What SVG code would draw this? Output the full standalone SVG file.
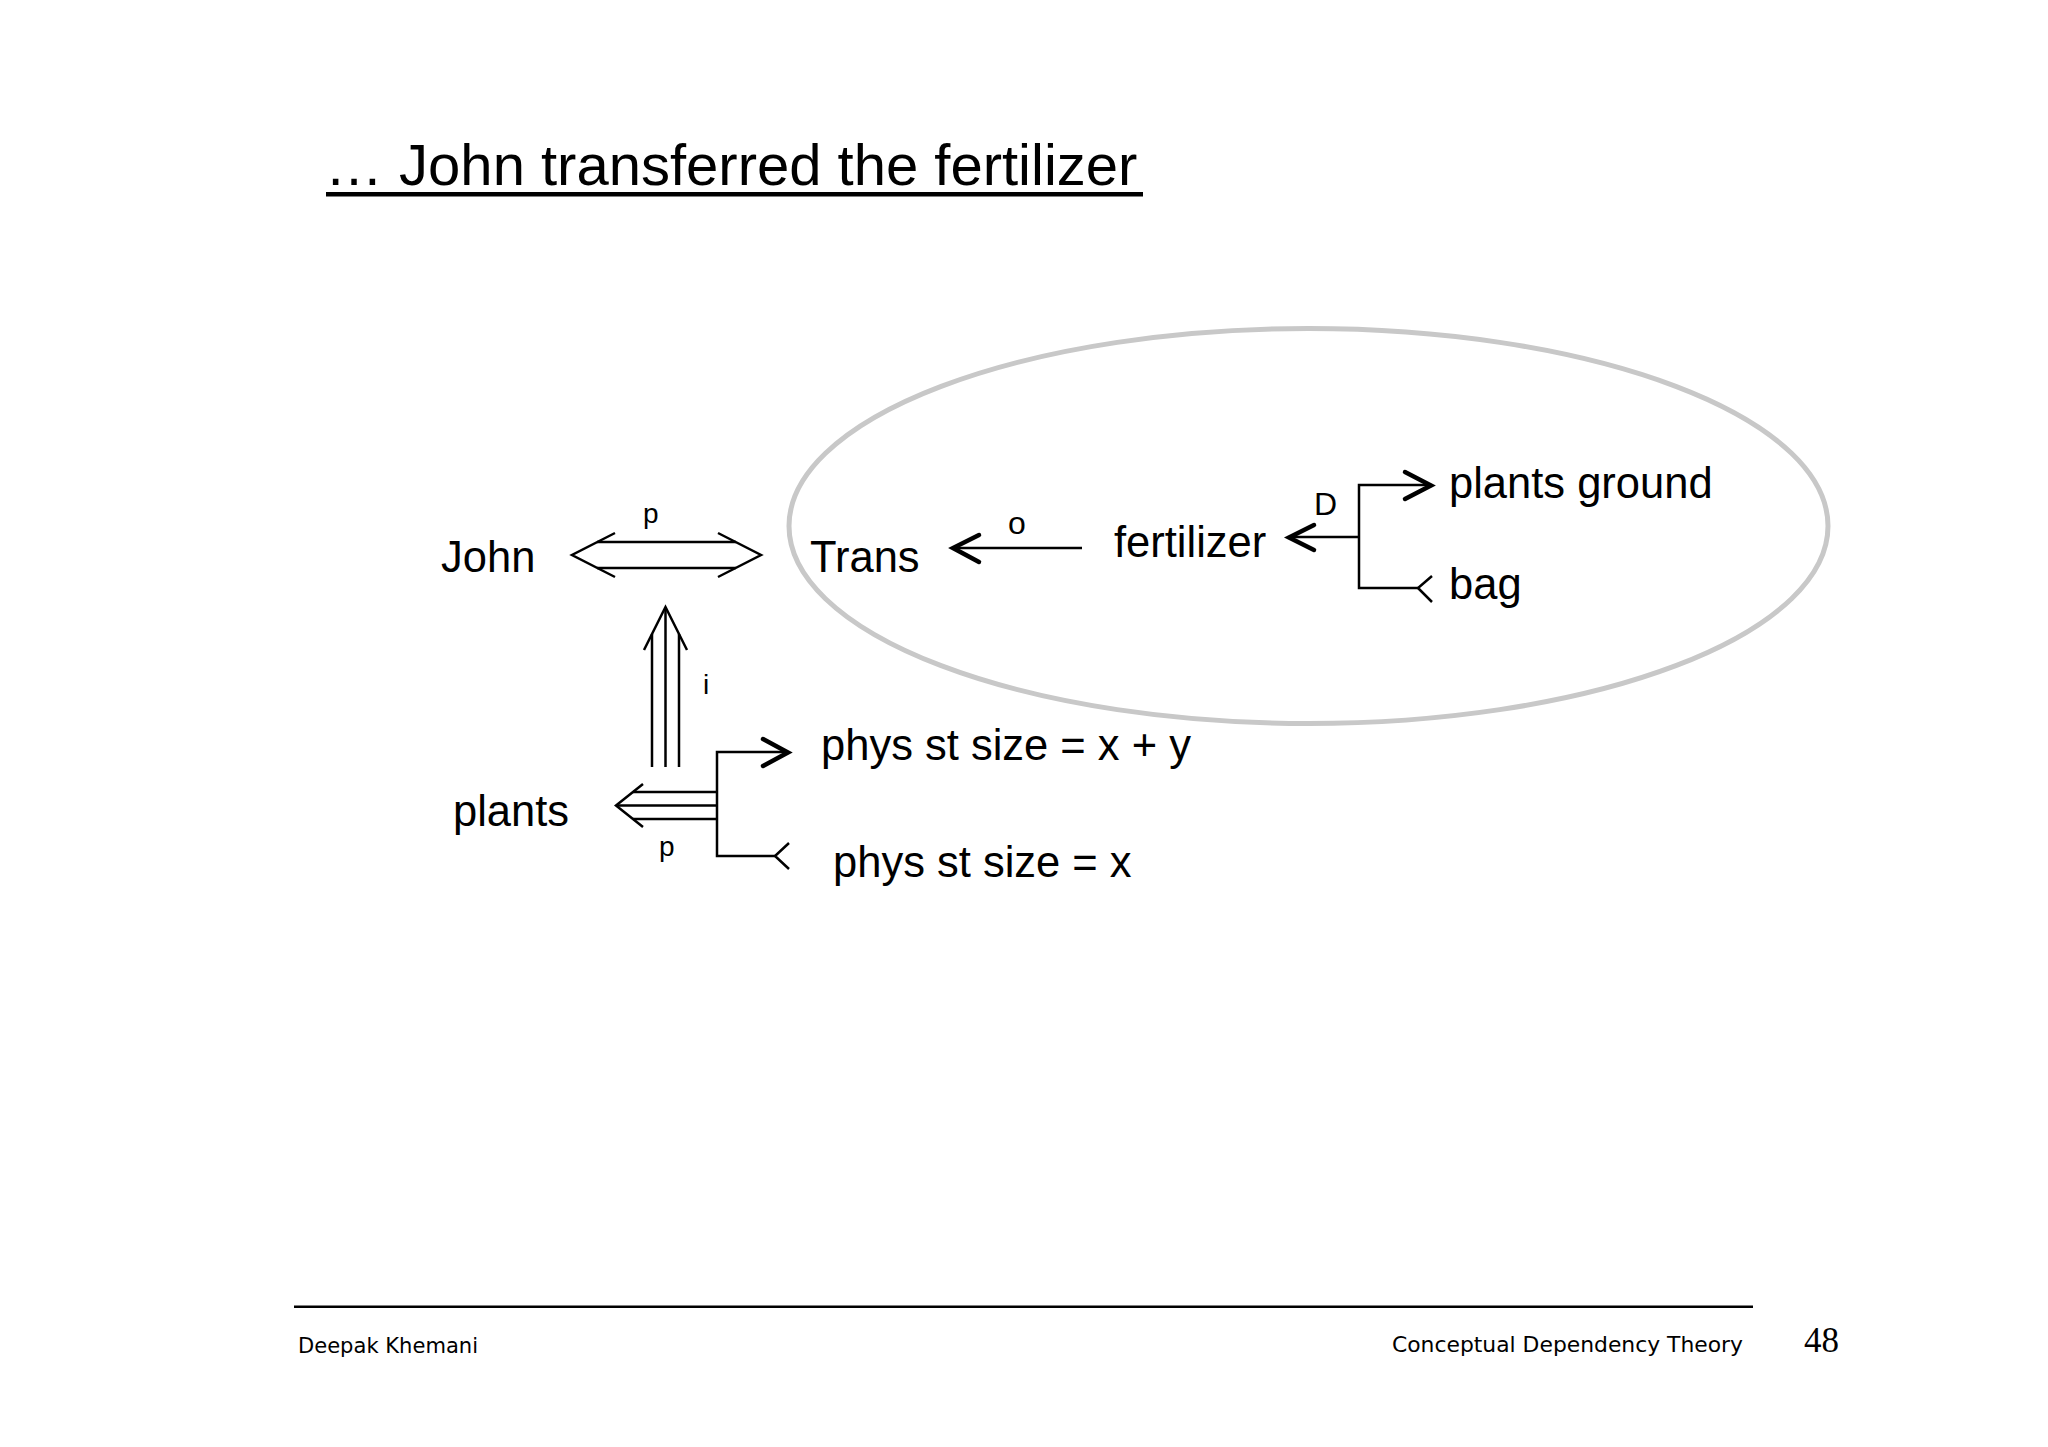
<svg xmlns="http://www.w3.org/2000/svg" width="2048" height="1447" viewBox="0 0 2048 1447">
<style>
  .t { font-family: "Liberation Sans", Arial, sans-serif; fill: #000; }
  .big { font-size: 43.5px; }
  .lbl { font-size: 28px; }
  .ln { stroke: #000; stroke-width: 2.5; fill: none; stroke-linecap: butt; }
  .hd { stroke: #000; stroke-width: 4.5; fill: none; stroke-linecap: round; stroke-linejoin: miter; }
  .foot { font-family: "DejaVu Sans", "Liberation Sans", sans-serif; font-size: 22px; fill: #000; }
</style>
<rect width="2048" height="1447" fill="#fff"/>

<g id="title">
  <text class="t" x="325" y="185" font-size="58">… John transferred the fertilizer</text>
  <rect x="326" y="192" width="817" height="4.5" fill="#000"/>
</g>

<g id="group-ellipse">
  <ellipse cx="1308.5" cy="526" rx="519.5" ry="197.5" fill="none" stroke="#c8c8c8" stroke-width="5"/>
</g>

<g id="node-john"><text class="t big" x="441" y="572">John</text></g>
<g id="node-trans"><text class="t big" x="810" y="572">Trans</text></g>
<g id="node-fertilizer"><text class="t big" x="1114" y="557">fertilizer</text></g>
<g id="node-plants-ground"><text class="t big" x="1449" y="498">plants ground</text></g>
<g id="node-bag"><text class="t big" x="1449" y="599">bag</text></g>
<g id="node-plants"><text class="t big" x="453" y="826">plants</text></g>
<g id="node-phys1"><text class="t big" x="821" y="760">phys st size = x + y</text></g>
<g id="node-phys2"><text class="t big" x="833" y="877">phys st size = x</text></g>

<g id="connectors">
  <!-- John <=> Trans double arrow -->
  <polyline class="ln" points="615,533 572,555 615,577"/>
  <polyline class="ln" points="718,533 761,555 718,577"/>
  <line class="ln" x1="597" y1="542" x2="736" y2="542"/>
  <line class="ln" x1="597" y1="568" x2="736" y2="568"/>
  <text class="t lbl" x="643" y="523">p</text>

  <!-- triple arrow up (instrument) -->
  <polyline class="ln" points="644,650 665.5,607 687,650"/>
  <line class="ln" x1="665.5" y1="607" x2="665.5" y2="767"/>
  <line class="ln" x1="652" y1="634" x2="652" y2="767"/>
  <line class="ln" x1="679" y1="634" x2="679" y2="767"/>
  <text class="t lbl" x="703" y="694">i</text>

  <!-- triple arrow left to plants -->
  <polyline class="ln" points="643,784 616,805.5 643,827"/>
  <line class="ln" x1="616" y1="805.5" x2="717" y2="805.5"/>
  <line class="ln" x1="633" y1="792" x2="717" y2="792"/>
  <line class="ln" x1="633" y1="819" x2="717" y2="819"/>
  <text class="t lbl" x="659" y="856">p</text>

  <!-- state change branch -->
  <polyline class="ln" points="788,752 717,752 717,856 775,856"/>
  <polyline class="hd" points="763,739 788,752.5 763,766"/>
  <polyline class="ln" points="789,843 775,856 789,869"/>

  <!-- Trans <- fertilizer (object) -->
  <line class="ln" x1="953" y1="548" x2="1082" y2="548"/>
  <polyline class="hd" points="979,535 953,548 979,562"/>
  <text class="t" x="1008" y="534" font-size="32">o</text>

  <!-- fertilizer <- D branch -->
  <line class="ln" x1="1289" y1="537" x2="1359" y2="537"/>
  <polyline class="hd" points="1314,525 1289,537.5 1314,550"/>
  <polyline class="ln" points="1430,485 1359,485 1359,588 1418,588"/>
  <polyline class="hd" points="1405,472 1431,485.5 1405,499"/>
  <polyline class="ln" points="1432,576 1418,588 1432,602"/>
  <text class="t" x="1314" y="515" font-size="32">D</text>
</g>

<g id="footer">
  <rect x="294" y="1305.5" width="1459" height="2.5" fill="#000"/>
  <text class="foot" x="298" y="1353" textLength="180" lengthAdjust="spacingAndGlyphs">Deepak Khemani</text>
  <text class="foot" x="1392" y="1352" textLength="351" lengthAdjust="spacingAndGlyphs">Conceptual Dependency Theory</text>
  <text x="1804" y="1352" font-family="Liberation Serif, Times New Roman, serif" font-size="35" fill="#000">48</text>
</g>
</svg>
